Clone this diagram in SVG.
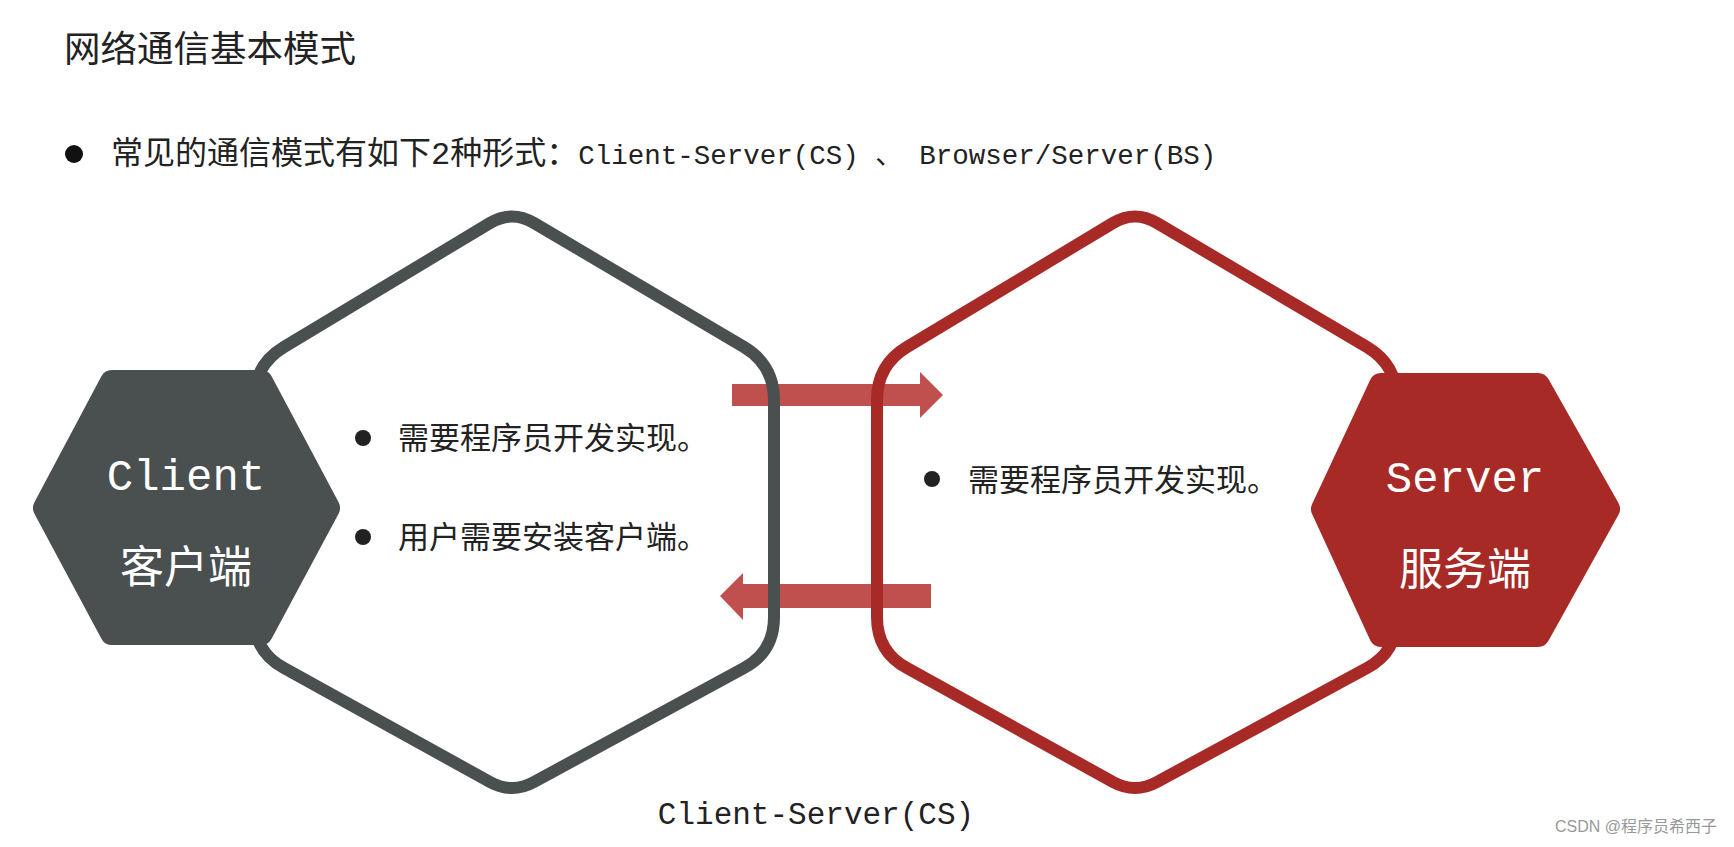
<svg xmlns="http://www.w3.org/2000/svg" width="1734" height="847" viewBox="0 0 1734 847">
<style>
.t{font-family:"Liberation Mono","Noto Sans CJK SC",monospace;fill:#222}
.w{font-family:"Liberation Mono","Noto Sans CJK SC",monospace;fill:#fff;font-size:44px;text-anchor:middle}
.big{fill:none;stroke-width:12;stroke-linejoin:round}
.arr{fill:#c0504d}
</style>
<defs>
<path id="bighex" d="M490,223 Q512,210 534,223 L744,347 Q774,365 774,400 L774,617 Q774,652 744,668 L534,782 Q512,794 490,782 L284,668 Q254,652 254,617 L254,400 Q254,365 284,347 Z"/>
</defs>
<rect width="1734" height="847" fill="#fff"/>
<text class="t" x="64" y="62" font-size="36.5">网络通信基本模式</text>
<circle cx="74" cy="154" r="9" fill="#111"/>
<text class="t" x="111" y="164" font-size="32">常见的通信模式有如下2种形式：<tspan font-size="27.5">Client-Server(CS) 、 Browser/Server(BS)</tspan></text>
<g id="connectors">
<polygon class="arr" points="732,384 920,384 920,372 943,395 920,418 920,406 732,406"/>
<polygon class="arr" points="931,584 743,584 743,573 720,596 743,620 743,608 931,608"/>
</g>
<g id="client-area"><use href="#bighex" class="big" stroke="#4a4f4f"/></g>
<g id="server-area"><use href="#bighex" class="big" stroke="#a82a27" transform="translate(623,0)"/></g>
<g id="client">
<polygon fill="#4a4f4f" stroke="#4a4f4f" stroke-width="24" stroke-linejoin="round" points="112,382 261,382 328,508 261,633 112,633 45,508"/>
<text class="w" x="186" y="490">Client</text>
<text class="w" x="186" y="583" font-size="48">客户端</text>
</g>
<g id="server">
<polygon fill="#a82a27" stroke="#a82a27" stroke-width="24" stroke-linejoin="round" points="1381,385 1538,385 1608,509 1538,635 1381,635 1323,509"/>
<text class="w" x="1465" y="492">Server</text>
<text class="w" x="1465" y="585" font-size="48">服务端</text>
</g>
<g id="client-notes">
<circle cx="363" cy="438" r="8" fill="#222"/>
<text class="t" x="398" y="449" font-size="31">需要程序员开发实现。</text>
<circle cx="363" cy="537" r="8" fill="#222"/>
<text class="t" x="398" y="548" font-size="31">用户需要安装客户端。</text>
</g>
<g id="server-notes">
<circle cx="932" cy="479" r="8" fill="#222"/>
<text class="t" x="968" y="491" font-size="31">需要程序员开发实现。</text>
</g>
<text class="t" x="816" y="824" font-size="31" text-anchor="middle">Client-Server(CS)</text>
<text x="1717" y="832" font-size="16" fill="#999" text-anchor="end" font-family="Liberation Sans,Noto Sans CJK SC,sans-serif">CSDN @程序员希西子</text>
</svg>
